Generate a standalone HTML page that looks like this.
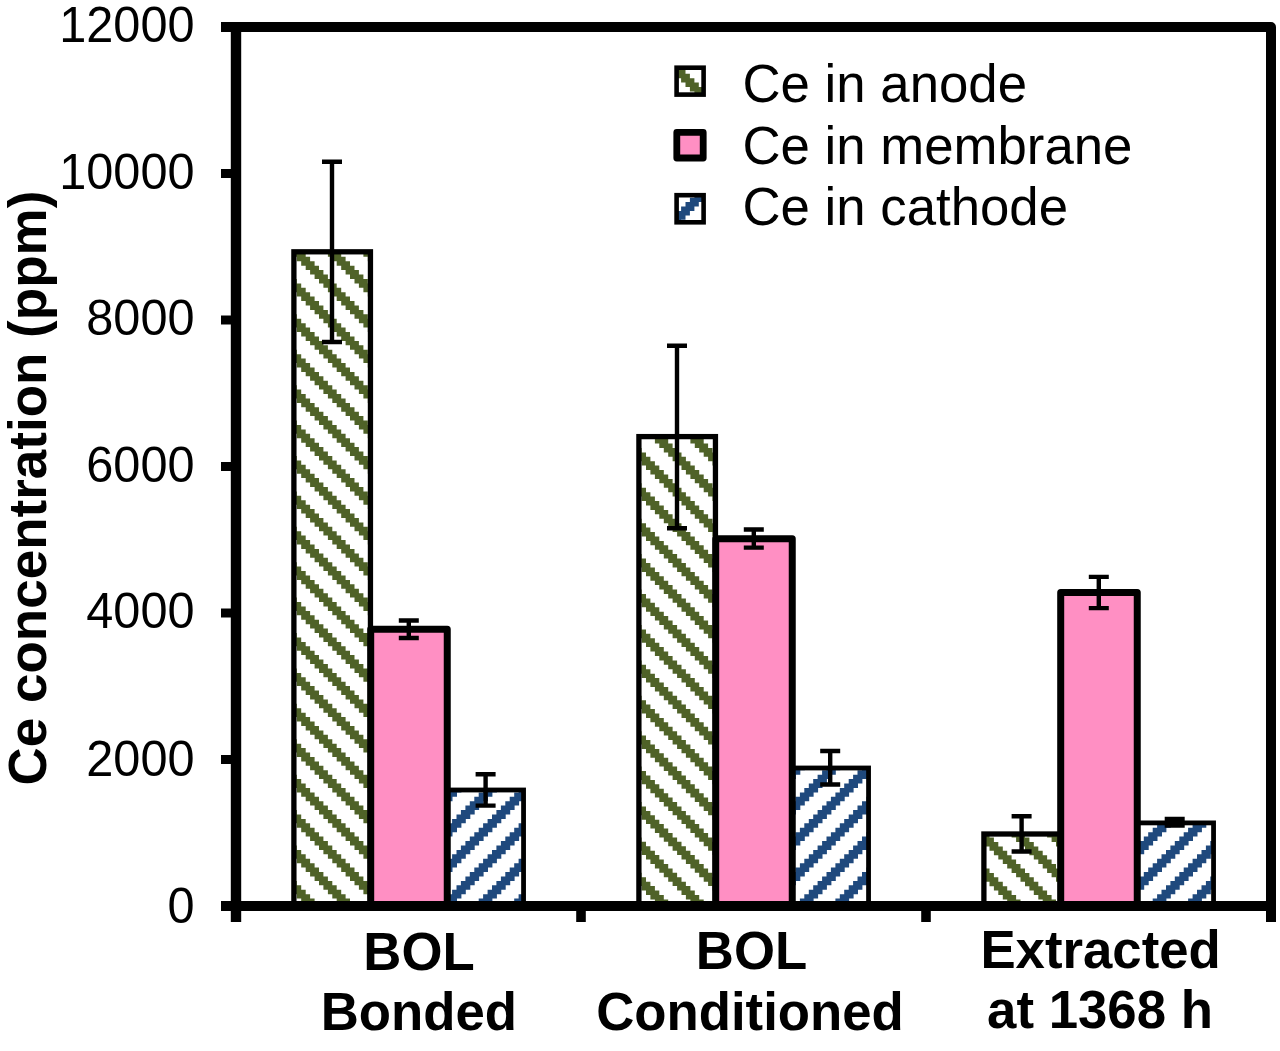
<!DOCTYPE html>
<html><head><meta charset="utf-8"><title>Ce concentration</title>
<style>html,body{margin:0;padding:0;background:#fff}svg{display:block}</style></head>
<body>
<svg width="1280" height="1051" viewBox="0 0 1280 1051">
<defs><filter id="soft" x="0" y="0" width="1280" height="1051" filterUnits="userSpaceOnUse" color-interpolation-filters="sRGB"><feGaussianBlur stdDeviation="0.7"/></filter></defs>
<rect width="1280" height="1051" fill="#fff"/>
<g filter="url(#soft)">
<rect x="-20" y="-20" width="1320" height="1091" fill="#fff"/>
<g><path fill="#4f6228" d="M293.9 251.8H301.2V252.4H293.9ZM323.4 251.8H336.7V252.4H323.4ZM358.9 251.8H370.4V252.4H358.9ZM293.9 252.4H305.7V256.8H293.9ZM327.9 252.4H341.2V256.8H327.9ZM363.4 252.4H370.4V256.8H363.4ZM296.8 256.8H310.1V261.2H296.8ZM332.3 256.8H345.6V261.2H332.3ZM367.8 256.8H370.4V261.2H367.8ZM301.2 261.2H314.6V265.7H301.2ZM336.7 261.2H350.0V265.7H336.7ZM305.7 265.7H319.0V270.1H305.7ZM341.2 265.7H354.5V270.1H341.2ZM310.1 270.1H323.4V274.5H310.1ZM345.6 270.1H358.9V274.5H345.6ZM314.6 274.5H327.9V278.9H314.6ZM350.0 274.5H363.4V278.9H350.0ZM293.9 278.9H296.8V283.4H293.9ZM319.0 278.9H332.3V283.4H319.0ZM354.5 278.9H367.8V283.4H354.5ZM293.9 283.4H301.2V287.8H293.9ZM323.4 283.4H336.7V287.8H323.4ZM358.9 283.4H370.4V287.8H358.9ZM293.9 287.8H305.7V292.2H293.9ZM327.9 287.8H341.2V292.2H327.9ZM363.4 287.8H370.4V292.2H363.4ZM296.8 292.2H310.1V296.6H296.8ZM332.3 292.2H345.6V296.6H332.3ZM367.8 292.2H370.4V296.6H367.8ZM301.2 296.6H314.6V301.1H301.2ZM336.7 296.6H350.0V301.1H336.7ZM305.7 301.1H319.0V305.5H305.7ZM341.2 301.1H354.5V305.5H341.2ZM310.1 305.5H323.4V309.9H310.1ZM345.6 305.5H358.9V309.9H345.6ZM314.6 309.9H327.9V314.3H314.6ZM350.0 309.9H363.4V314.3H350.0ZM293.9 314.3H296.8V318.8H293.9ZM319.0 314.3H332.3V318.8H319.0ZM354.5 314.3H367.8V318.8H354.5ZM293.9 318.8H301.2V323.2H293.9ZM323.4 318.8H336.7V323.2H323.4ZM358.9 318.8H370.4V323.2H358.9ZM293.9 323.2H305.7V327.6H293.9ZM327.9 323.2H341.2V327.6H327.9ZM363.4 323.2H370.4V327.6H363.4ZM296.8 327.6H310.1V332.1H296.8ZM332.3 327.6H345.6V332.1H332.3ZM367.8 327.6H370.4V332.1H367.8ZM301.2 332.1H314.6V336.5H301.2ZM336.7 332.1H350.0V336.5H336.7ZM305.7 336.5H319.0V340.9H305.7ZM341.2 336.5H354.5V340.9H341.2ZM310.1 340.9H323.4V345.3H310.1ZM345.6 340.9H358.9V345.3H345.6ZM314.6 345.3H327.9V349.8H314.6ZM350.0 345.3H363.4V349.8H350.0ZM293.9 349.8H296.8V354.2H293.9ZM319.0 349.8H332.3V354.2H319.0ZM354.5 349.8H367.8V354.2H354.5ZM293.9 354.2H301.2V358.6H293.9ZM323.4 354.2H336.7V358.6H323.4ZM358.9 354.2H370.4V358.6H358.9ZM293.9 358.6H305.7V363.0H293.9ZM327.9 358.6H341.2V363.0H327.9ZM363.4 358.6H370.4V363.0H363.4ZM296.8 363.0H310.1V367.5H296.8ZM332.3 363.0H345.6V367.5H332.3ZM367.8 363.0H370.4V367.5H367.8ZM301.2 367.5H314.6V371.9H301.2ZM336.7 367.5H350.0V371.9H336.7ZM305.7 371.9H319.0V376.3H305.7ZM341.2 371.9H354.5V376.3H341.2ZM310.1 376.3H323.4V380.7H310.1ZM345.6 376.3H358.9V380.7H345.6ZM314.6 380.7H327.9V385.2H314.6ZM350.0 380.7H363.4V385.2H350.0ZM293.9 385.2H296.8V389.6H293.9ZM319.0 385.2H332.3V389.6H319.0ZM354.5 385.2H367.8V389.6H354.5ZM293.9 389.6H301.2V394.0H293.9ZM323.4 389.6H336.7V394.0H323.4ZM358.9 389.6H370.4V394.0H358.9ZM293.9 394.0H305.7V398.4H293.9ZM327.9 394.0H341.2V398.4H327.9ZM363.4 394.0H370.4V398.4H363.4ZM296.8 398.4H310.1V402.9H296.8ZM332.3 398.4H345.6V402.9H332.3ZM367.8 398.4H370.4V402.9H367.8ZM301.2 402.9H314.6V407.3H301.2ZM336.7 402.9H350.0V407.3H336.7ZM305.7 407.3H319.0V411.7H305.7ZM341.2 407.3H354.5V411.7H341.2ZM310.1 411.7H323.4V416.1H310.1ZM345.6 411.7H358.9V416.1H345.6ZM314.6 416.1H327.9V420.6H314.6ZM350.0 416.1H363.4V420.6H350.0ZM293.9 420.6H296.8V425.0H293.9ZM319.0 420.6H332.3V425.0H319.0ZM354.5 420.6H367.8V425.0H354.5ZM293.9 425.0H301.2V429.4H293.9ZM323.4 425.0H336.7V429.4H323.4ZM358.9 425.0H370.4V429.4H358.9ZM293.9 429.4H305.7V433.8H293.9ZM327.9 429.4H341.2V433.8H327.9ZM363.4 429.4H370.4V433.8H363.4ZM296.8 433.8H310.1V438.3H296.8ZM332.3 433.8H345.6V438.3H332.3ZM367.8 433.8H370.4V438.3H367.8ZM301.2 438.3H314.6V442.7H301.2ZM336.7 438.3H350.0V442.7H336.7ZM305.7 442.7H319.0V447.1H305.7ZM341.2 442.7H354.5V447.1H341.2ZM310.1 447.1H323.4V451.6H310.1ZM345.6 447.1H358.9V451.6H345.6ZM314.6 451.6H327.9V456.0H314.6ZM350.0 451.6H363.4V456.0H350.0ZM293.9 456.0H296.8V460.4H293.9ZM319.0 456.0H332.3V460.4H319.0ZM354.5 456.0H367.8V460.4H354.5ZM293.9 460.4H301.2V464.8H293.9ZM323.4 460.4H336.7V464.8H323.4ZM358.9 460.4H370.4V464.8H358.9ZM293.9 464.8H305.7V469.3H293.9ZM327.9 464.8H341.2V469.3H327.9ZM363.4 464.8H370.4V469.3H363.4ZM296.8 469.3H310.1V473.7H296.8ZM332.3 469.3H345.6V473.7H332.3ZM367.8 469.3H370.4V473.7H367.8ZM301.2 473.7H314.6V478.1H301.2ZM336.7 473.7H350.0V478.1H336.7ZM305.7 478.1H319.0V482.5H305.7ZM341.2 478.1H354.5V482.5H341.2ZM310.1 482.5H323.4V487.0H310.1ZM345.6 482.5H358.9V487.0H345.6ZM314.6 487.0H327.9V491.4H314.6ZM350.0 487.0H363.4V491.4H350.0ZM293.9 491.4H296.8V495.8H293.9ZM319.0 491.4H332.3V495.8H319.0ZM354.5 491.4H367.8V495.8H354.5ZM293.9 495.8H301.2V500.2H293.9ZM323.4 495.8H336.7V500.2H323.4ZM358.9 495.8H370.4V500.2H358.9ZM293.9 500.2H305.7V504.7H293.9ZM327.9 500.2H341.2V504.7H327.9ZM363.4 500.2H370.4V504.7H363.4ZM296.8 504.7H310.1V509.1H296.8ZM332.3 504.7H345.6V509.1H332.3ZM367.8 504.7H370.4V509.1H367.8ZM301.2 509.1H314.6V513.5H301.2ZM336.7 509.1H350.0V513.5H336.7ZM305.7 513.5H319.0V517.9H305.7ZM341.2 513.5H354.5V517.9H341.2ZM310.1 517.9H323.4V522.4H310.1ZM345.6 517.9H358.9V522.4H345.6ZM314.6 522.4H327.9V526.8H314.6ZM350.0 522.4H363.4V526.8H350.0ZM293.9 526.8H296.8V531.2H293.9ZM319.0 526.8H332.3V531.2H319.0ZM354.5 526.8H367.8V531.2H354.5ZM293.9 531.2H301.2V535.6H293.9ZM323.4 531.2H336.7V535.6H323.4ZM358.9 531.2H370.4V535.6H358.9ZM293.9 535.6H305.7V540.1H293.9ZM327.9 535.6H341.2V540.1H327.9ZM363.4 535.6H370.4V540.1H363.4ZM296.8 540.1H310.1V544.5H296.8ZM332.3 540.1H345.6V544.5H332.3ZM367.8 540.1H370.4V544.5H367.8ZM301.2 544.5H314.6V548.9H301.2ZM336.7 544.5H350.0V548.9H336.7ZM305.7 548.9H319.0V553.4H305.7ZM341.2 548.9H354.5V553.4H341.2ZM310.1 553.4H323.4V557.8H310.1ZM345.6 553.4H358.9V557.8H345.6ZM314.6 557.8H327.9V562.2H314.6ZM350.0 557.8H363.4V562.2H350.0ZM293.9 562.2H296.8V566.6H293.9ZM319.0 562.2H332.3V566.6H319.0ZM354.5 562.2H367.8V566.6H354.5ZM293.9 566.6H301.2V571.1H293.9ZM323.4 566.6H336.7V571.1H323.4ZM358.9 566.6H370.4V571.1H358.9ZM293.9 571.1H305.7V575.5H293.9ZM327.9 571.1H341.2V575.5H327.9ZM363.4 571.1H370.4V575.5H363.4ZM296.8 575.5H310.1V579.9H296.8ZM332.3 575.5H345.6V579.9H332.3ZM367.8 575.5H370.4V579.9H367.8ZM301.2 579.9H314.6V584.3H301.2ZM336.7 579.9H350.0V584.3H336.7ZM305.7 584.3H319.0V588.8H305.7ZM341.2 584.3H354.5V588.8H341.2ZM310.1 588.8H323.4V593.2H310.1ZM345.6 588.8H358.9V593.2H345.6ZM314.6 593.2H327.9V597.6H314.6ZM350.0 593.2H363.4V597.6H350.0ZM293.9 597.6H296.8V602.0H293.9ZM319.0 597.6H332.3V602.0H319.0ZM354.5 597.6H367.8V602.0H354.5ZM293.9 602.0H301.2V606.5H293.9ZM323.4 602.0H336.7V606.5H323.4ZM358.9 602.0H370.4V606.5H358.9ZM293.9 606.5H305.7V610.9H293.9ZM327.9 606.5H341.2V610.9H327.9ZM363.4 606.5H370.4V610.9H363.4ZM296.8 610.9H310.1V615.3H296.8ZM332.3 610.9H345.6V615.3H332.3ZM367.8 610.9H370.4V615.3H367.8ZM301.2 615.3H314.6V619.7H301.2ZM336.7 615.3H350.0V619.7H336.7ZM305.7 619.7H319.0V624.2H305.7ZM341.2 619.7H354.5V624.2H341.2ZM310.1 624.2H323.4V628.6H310.1ZM345.6 624.2H358.9V628.6H345.6ZM314.6 628.6H327.9V633.0H314.6ZM350.0 628.6H363.4V633.0H350.0ZM293.9 633.0H296.8V637.4H293.9ZM319.0 633.0H332.3V637.4H319.0ZM354.5 633.0H367.8V637.4H354.5ZM293.9 637.4H301.2V641.9H293.9ZM323.4 637.4H336.7V641.9H323.4ZM358.9 637.4H370.4V641.9H358.9ZM293.9 641.9H305.7V646.3H293.9ZM327.9 641.9H341.2V646.3H327.9ZM363.4 641.9H370.4V646.3H363.4ZM296.8 646.3H310.1V650.7H296.8ZM332.3 646.3H345.6V650.7H332.3ZM367.8 646.3H370.4V650.7H367.8ZM301.2 650.7H314.6V655.1H301.2ZM336.7 650.7H350.0V655.1H336.7ZM305.7 655.1H319.0V659.6H305.7ZM341.2 655.1H354.5V659.6H341.2ZM310.1 659.6H323.4V664.0H310.1ZM345.6 659.6H358.9V664.0H345.6ZM314.6 664.0H327.9V668.4H314.6ZM350.0 664.0H363.4V668.4H350.0ZM293.9 668.4H296.8V672.9H293.9ZM319.0 668.4H332.3V672.9H319.0ZM354.5 668.4H367.8V672.9H354.5ZM293.9 672.9H301.2V677.3H293.9ZM323.4 672.9H336.7V677.3H323.4ZM358.9 672.9H370.4V677.3H358.9ZM293.9 677.3H305.7V681.7H293.9ZM327.9 677.3H341.2V681.7H327.9ZM363.4 677.3H370.4V681.7H363.4ZM296.8 681.7H310.1V686.1H296.8ZM332.3 681.7H345.6V686.1H332.3ZM367.8 681.7H370.4V686.1H367.8ZM301.2 686.1H314.6V690.6H301.2ZM336.7 686.1H350.0V690.6H336.7ZM305.7 690.6H319.0V695.0H305.7ZM341.2 690.6H354.5V695.0H341.2ZM310.1 695.0H323.4V699.4H310.1ZM345.6 695.0H358.9V699.4H345.6ZM314.6 699.4H327.9V703.8H314.6ZM350.0 699.4H363.4V703.8H350.0ZM293.9 703.8H296.8V708.3H293.9ZM319.0 703.8H332.3V708.3H319.0ZM354.5 703.8H367.8V708.3H354.5ZM293.9 708.3H301.2V712.7H293.9ZM323.4 708.3H336.7V712.7H323.4ZM358.9 708.3H370.4V712.7H358.9ZM293.9 712.7H305.7V717.1H293.9ZM327.9 712.7H341.2V717.1H327.9ZM363.4 712.7H370.4V717.1H363.4ZM296.8 717.1H310.1V721.5H296.8ZM332.3 717.1H345.6V721.5H332.3ZM367.8 717.1H370.4V721.5H367.8ZM301.2 721.5H314.6V726.0H301.2ZM336.7 721.5H350.0V726.0H336.7ZM305.7 726.0H319.0V730.4H305.7ZM341.2 726.0H354.5V730.4H341.2ZM310.1 730.4H323.4V734.8H310.1ZM345.6 730.4H358.9V734.8H345.6ZM314.6 734.8H327.9V739.2H314.6ZM350.0 734.8H363.4V739.2H350.0ZM293.9 739.2H296.8V743.7H293.9ZM319.0 739.2H332.3V743.7H319.0ZM354.5 739.2H367.8V743.7H354.5ZM293.9 743.7H301.2V748.1H293.9ZM323.4 743.7H336.7V748.1H323.4ZM358.9 743.7H370.4V748.1H358.9ZM293.9 748.1H305.7V752.5H293.9ZM327.9 748.1H341.2V752.5H327.9ZM363.4 748.1H370.4V752.5H363.4ZM296.8 752.5H310.1V756.9H296.8ZM332.3 752.5H345.6V756.9H332.3ZM367.8 752.5H370.4V756.9H367.8ZM301.2 756.9H314.6V761.4H301.2ZM336.7 756.9H350.0V761.4H336.7ZM305.7 761.4H319.0V765.8H305.7ZM341.2 761.4H354.5V765.8H341.2ZM310.1 765.8H323.4V770.2H310.1ZM345.6 765.8H358.9V770.2H345.6ZM314.6 770.2H327.9V774.7H314.6ZM350.0 770.2H363.4V774.7H350.0ZM293.9 774.7H296.8V779.1H293.9ZM319.0 774.7H332.3V779.1H319.0ZM354.5 774.7H367.8V779.1H354.5ZM293.9 779.1H301.2V783.5H293.9ZM323.4 779.1H336.7V783.5H323.4ZM358.9 779.1H370.4V783.5H358.9ZM293.9 783.5H305.7V787.9H293.9ZM327.9 783.5H341.2V787.9H327.9ZM363.4 783.5H370.4V787.9H363.4ZM296.8 787.9H310.1V792.4H296.8ZM332.3 787.9H345.6V792.4H332.3ZM367.8 787.9H370.4V792.4H367.8ZM301.2 792.4H314.6V796.8H301.2ZM336.7 792.4H350.0V796.8H336.7ZM305.7 796.8H319.0V801.2H305.7ZM341.2 796.8H354.5V801.2H341.2ZM310.1 801.2H323.4V805.6H310.1ZM345.6 801.2H358.9V805.6H345.6ZM314.6 805.6H327.9V810.1H314.6ZM350.0 805.6H363.4V810.1H350.0ZM293.9 810.1H296.8V814.5H293.9ZM319.0 810.1H332.3V814.5H319.0ZM354.5 810.1H367.8V814.5H354.5ZM293.9 814.5H301.2V818.9H293.9ZM323.4 814.5H336.7V818.9H323.4ZM358.9 814.5H370.4V818.9H358.9ZM293.9 818.9H305.7V823.3H293.9ZM327.9 818.9H341.2V823.3H327.9ZM363.4 818.9H370.4V823.3H363.4ZM296.8 823.3H310.1V827.8H296.8ZM332.3 823.3H345.6V827.8H332.3ZM367.8 823.3H370.4V827.8H367.8ZM301.2 827.8H314.6V832.2H301.2ZM336.7 827.8H350.0V832.2H336.7ZM305.7 832.2H319.0V836.6H305.7ZM341.2 832.2H354.5V836.6H341.2ZM310.1 836.6H323.4V841.0H310.1ZM345.6 836.6H358.9V841.0H345.6ZM314.6 841.0H327.9V845.5H314.6ZM350.0 841.0H363.4V845.5H350.0ZM293.9 845.5H296.8V849.9H293.9ZM319.0 845.5H332.3V849.9H319.0ZM354.5 845.5H367.8V849.9H354.5ZM293.9 849.9H301.2V854.3H293.9ZM323.4 849.9H336.7V854.3H323.4ZM358.9 849.9H370.4V854.3H358.9ZM293.9 854.3H305.7V858.7H293.9ZM327.9 854.3H341.2V858.7H327.9ZM363.4 854.3H370.4V858.7H363.4ZM296.8 858.7H310.1V863.2H296.8ZM332.3 858.7H345.6V863.2H332.3ZM367.8 858.7H370.4V863.2H367.8ZM301.2 863.2H314.6V867.6H301.2ZM336.7 863.2H350.0V867.6H336.7ZM305.7 867.6H319.0V872.0H305.7ZM341.2 867.6H354.5V872.0H341.2ZM310.1 872.0H323.4V876.4H310.1ZM345.6 872.0H358.9V876.4H345.6ZM314.6 876.4H327.9V880.9H314.6ZM350.0 876.4H363.4V880.9H350.0ZM293.9 880.9H296.8V885.3H293.9ZM319.0 880.9H332.3V885.3H319.0ZM354.5 880.9H367.8V885.3H354.5ZM293.9 885.3H301.2V889.7H293.9ZM323.4 885.3H336.7V889.7H323.4ZM358.9 885.3H370.4V889.7H358.9ZM293.9 889.7H305.7V894.2H293.9ZM327.9 889.7H341.2V894.2H327.9ZM363.4 889.7H370.4V894.2H363.4ZM296.8 894.2H310.1V898.6H296.8ZM332.3 894.2H345.6V898.6H332.3ZM367.8 894.2H370.4V898.6H367.8ZM301.2 898.6H314.6V903.0H301.2ZM336.7 898.6H350.0V903.0H336.7ZM305.7 903.0H319.0V906.0H305.7ZM341.2 903.0H354.5V906.0H341.2Z"/>
<rect x="293.90" y="251.80" width="76.55" height="654.20" fill="none" stroke="#000" stroke-width="5.3"/>
<path fill="#1f497d" d="M447.6 790.0H461.4V792.4H447.6ZM483.1 790.0H496.9V792.4H483.1ZM518.6 790.0H523.5V792.4H518.6ZM447.0 792.4H457.0V796.8H447.0ZM478.7 792.4H492.4V796.8H478.7ZM514.2 792.4H523.5V796.8H514.2ZM447.0 796.8H452.5V801.2H447.0ZM474.3 796.8H488.0V801.2H474.3ZM509.7 796.8H523.5V801.2H509.7ZM447.0 801.2H448.1V805.6H447.0ZM469.8 801.2H483.6V805.6H469.8ZM505.3 801.2H519.1V805.6H505.3ZM465.4 805.6H479.1V810.1H465.4ZM500.9 805.6H514.6V810.1H500.9ZM460.9 810.1H474.7V814.5H460.9ZM496.4 810.1H510.2V814.5H496.4ZM456.5 814.5H470.3V818.9H456.5ZM492.0 814.5H505.7V818.9H492.0ZM452.1 818.9H465.8V823.3H452.1ZM487.6 818.9H501.3V823.3H487.6ZM523.0 818.9H523.5V823.3H523.0ZM447.6 823.3H461.4V827.8H447.6ZM483.1 823.3H496.9V827.8H483.1ZM518.6 823.3H523.5V827.8H518.6ZM447.0 827.8H457.0V832.2H447.0ZM478.7 827.8H492.4V832.2H478.7ZM514.2 827.8H523.5V832.2H514.2ZM447.0 832.2H452.5V836.6H447.0ZM474.3 832.2H488.0V836.6H474.3ZM509.7 832.2H523.5V836.6H509.7ZM447.0 836.6H448.1V841.0H447.0ZM469.8 836.6H483.6V841.0H469.8ZM505.3 836.6H519.1V841.0H505.3ZM465.4 841.0H479.1V845.5H465.4ZM500.9 841.0H514.6V845.5H500.9ZM460.9 845.5H474.7V849.9H460.9ZM496.4 845.5H510.2V849.9H496.4ZM456.5 849.9H470.3V854.3H456.5ZM492.0 849.9H505.7V854.3H492.0ZM452.1 854.3H465.8V858.7H452.1ZM487.6 854.3H501.3V858.7H487.6ZM523.0 854.3H523.5V858.7H523.0ZM447.6 858.7H461.4V863.2H447.6ZM483.1 858.7H496.9V863.2H483.1ZM518.6 858.7H523.5V863.2H518.6ZM447.0 863.2H457.0V867.6H447.0ZM478.7 863.2H492.4V867.6H478.7ZM514.2 863.2H523.5V867.6H514.2ZM447.0 867.6H452.5V872.0H447.0ZM474.3 867.6H488.0V872.0H474.3ZM509.7 867.6H523.5V872.0H509.7ZM447.0 872.0H448.1V876.4H447.0ZM469.8 872.0H483.6V876.4H469.8ZM505.3 872.0H519.1V876.4H505.3ZM465.4 876.4H479.1V880.9H465.4ZM500.9 876.4H514.6V880.9H500.9ZM460.9 880.9H474.7V885.3H460.9ZM496.4 880.9H510.2V885.3H496.4ZM456.5 885.3H470.3V889.7H456.5ZM492.0 885.3H505.7V889.7H492.0ZM452.1 889.7H465.8V894.2H452.1ZM487.6 889.7H501.3V894.2H487.6ZM523.0 889.7H523.5V894.2H523.0ZM447.6 894.2H461.4V898.6H447.6ZM483.1 894.2H496.9V898.6H483.1ZM518.6 894.2H523.5V898.6H518.6ZM447.0 898.6H457.0V903.0H447.0ZM478.7 898.6H492.4V903.0H478.7ZM514.2 898.6H523.5V903.0H514.2ZM447.0 903.0H452.5V906.0H447.0ZM474.3 903.0H488.0V906.0H474.3ZM509.7 903.0H523.5V906.0H509.7Z"/>
<rect x="447.00" y="790.00" width="76.55" height="116.00" fill="none" stroke="#000" stroke-width="4.8"/>
<rect x="370.70" y="629.20" width="76.55" height="276.80" fill="#ff8fc3" stroke="#000" stroke-width="7" stroke-linejoin="round"/>
<path fill="#4f6228" d="M650.4 436.6H663.8V439.1H650.4ZM685.9 436.6H699.2V439.1H685.9ZM654.9 439.1H668.2V443.5H654.9ZM690.4 439.1H703.7V443.5H690.4ZM659.3 443.5H672.6V447.9H659.3ZM694.8 443.5H708.1V447.9H694.8ZM638.9 447.9H641.6V452.4H638.9ZM663.8 447.9H677.1V452.4H663.8ZM699.2 447.9H712.5V452.4H699.2ZM638.9 452.4H646.0V456.8H638.9ZM668.2 452.4H681.5V456.8H668.2ZM703.7 452.4H715.4V456.8H703.7ZM638.9 456.8H650.4V461.2H638.9ZM672.6 456.8H685.9V461.2H672.6ZM708.1 456.8H715.4V461.2H708.1ZM641.6 461.2H654.9V465.6H641.6ZM677.1 461.2H690.4V465.6H677.1ZM712.5 461.2H715.4V465.6H712.5ZM646.0 465.6H659.3V470.1H646.0ZM681.5 465.6H694.8V470.1H681.5ZM650.4 470.1H663.8V474.5H650.4ZM685.9 470.1H699.2V474.5H685.9ZM654.9 474.5H668.2V478.9H654.9ZM690.4 474.5H703.7V478.9H690.4ZM659.3 478.9H672.6V483.3H659.3ZM694.8 478.9H708.1V483.3H694.8ZM638.9 483.3H641.6V487.8H638.9ZM663.8 483.3H677.1V487.8H663.8ZM699.2 483.3H712.5V487.8H699.2ZM638.9 487.8H646.0V492.2H638.9ZM668.2 487.8H681.5V492.2H668.2ZM703.7 487.8H715.4V492.2H703.7ZM638.9 492.2H650.4V496.6H638.9ZM672.6 492.2H685.9V496.6H672.6ZM708.1 492.2H715.4V496.6H708.1ZM641.6 496.6H654.9V501.0H641.6ZM677.1 496.6H690.4V501.0H677.1ZM712.5 496.6H715.4V501.0H712.5ZM646.0 501.0H659.3V505.5H646.0ZM681.5 501.0H694.8V505.5H681.5ZM650.4 505.5H663.8V509.9H650.4ZM685.9 505.5H699.2V509.9H685.9ZM654.9 509.9H668.2V514.3H654.9ZM690.4 509.9H703.7V514.3H690.4ZM659.3 514.3H672.6V518.7H659.3ZM694.8 514.3H708.1V518.7H694.8ZM638.9 518.7H641.6V523.2H638.9ZM663.8 518.7H677.1V523.2H663.8ZM699.2 518.7H712.5V523.2H699.2ZM638.9 523.2H646.0V527.6H638.9ZM668.2 523.2H681.5V527.6H668.2ZM703.7 523.2H715.4V527.6H703.7ZM638.9 527.6H650.4V532.0H638.9ZM672.6 527.6H685.9V532.0H672.6ZM708.1 527.6H715.4V532.0H708.1ZM641.6 532.0H654.9V536.4H641.6ZM677.1 532.0H690.4V536.4H677.1ZM712.5 532.0H715.4V536.4H712.5ZM646.0 536.4H659.3V540.9H646.0ZM681.5 536.4H694.8V540.9H681.5ZM650.4 540.9H663.8V545.3H650.4ZM685.9 540.9H699.2V545.3H685.9ZM654.9 545.3H668.2V549.7H654.9ZM690.4 545.3H703.7V549.7H690.4ZM659.3 549.7H672.6V554.1H659.3ZM694.8 549.7H708.1V554.1H694.8ZM638.9 554.1H641.6V558.6H638.9ZM663.8 554.1H677.1V558.6H663.8ZM699.2 554.1H712.5V558.6H699.2ZM638.9 558.6H646.0V563.0H638.9ZM668.2 558.6H681.5V563.0H668.2ZM703.7 558.6H715.4V563.0H703.7ZM638.9 563.0H650.4V567.4H638.9ZM672.6 563.0H685.9V567.4H672.6ZM708.1 563.0H715.4V567.4H708.1ZM641.6 567.4H654.9V571.9H641.6ZM677.1 567.4H690.4V571.9H677.1ZM712.5 567.4H715.4V571.9H712.5ZM646.0 571.9H659.3V576.3H646.0ZM681.5 571.9H694.8V576.3H681.5ZM650.4 576.3H663.8V580.7H650.4ZM685.9 576.3H699.2V580.7H685.9ZM654.9 580.7H668.2V585.1H654.9ZM690.4 580.7H703.7V585.1H690.4ZM659.3 585.1H672.6V589.6H659.3ZM694.8 585.1H708.1V589.6H694.8ZM638.9 589.6H641.6V594.0H638.9ZM663.8 589.6H677.1V594.0H663.8ZM699.2 589.6H712.5V594.0H699.2ZM638.9 594.0H646.0V598.4H638.9ZM668.2 594.0H681.5V598.4H668.2ZM703.7 594.0H715.4V598.4H703.7ZM638.9 598.4H650.4V602.8H638.9ZM672.6 598.4H685.9V602.8H672.6ZM708.1 598.4H715.4V602.8H708.1ZM641.6 602.8H654.9V607.3H641.6ZM677.1 602.8H690.4V607.3H677.1ZM712.5 602.8H715.4V607.3H712.5ZM646.0 607.3H659.3V611.7H646.0ZM681.5 607.3H694.8V611.7H681.5ZM650.4 611.7H663.8V616.1H650.4ZM685.9 611.7H699.2V616.1H685.9ZM654.9 616.1H668.2V620.5H654.9ZM690.4 616.1H703.7V620.5H690.4ZM659.3 620.5H672.6V625.0H659.3ZM694.8 620.5H708.1V625.0H694.8ZM638.9 625.0H641.6V629.4H638.9ZM663.8 625.0H677.1V629.4H663.8ZM699.2 625.0H712.5V629.4H699.2ZM638.9 629.4H646.0V633.8H638.9ZM668.2 629.4H681.5V633.8H668.2ZM703.7 629.4H715.4V633.8H703.7ZM638.9 633.8H650.4V638.2H638.9ZM672.6 633.8H685.9V638.2H672.6ZM708.1 633.8H715.4V638.2H708.1ZM641.6 638.2H654.9V642.7H641.6ZM677.1 638.2H690.4V642.7H677.1ZM712.5 638.2H715.4V642.7H712.5ZM646.0 642.7H659.3V647.1H646.0ZM681.5 642.7H694.8V647.1H681.5ZM650.4 647.1H663.8V651.5H650.4ZM685.9 647.1H699.2V651.5H685.9ZM654.9 651.5H668.2V655.9H654.9ZM690.4 651.5H703.7V655.9H690.4ZM659.3 655.9H672.6V660.4H659.3ZM694.8 655.9H708.1V660.4H694.8ZM638.9 660.4H641.6V664.8H638.9ZM663.8 660.4H677.1V664.8H663.8ZM699.2 660.4H712.5V664.8H699.2ZM638.9 664.8H646.0V669.2H638.9ZM668.2 664.8H681.5V669.2H668.2ZM703.7 664.8H715.4V669.2H703.7ZM638.9 669.2H650.4V673.7H638.9ZM672.6 669.2H685.9V673.7H672.6ZM708.1 669.2H715.4V673.7H708.1ZM641.6 673.7H654.9V678.1H641.6ZM677.1 673.7H690.4V678.1H677.1ZM712.5 673.7H715.4V678.1H712.5ZM646.0 678.1H659.3V682.5H646.0ZM681.5 678.1H694.8V682.5H681.5ZM650.4 682.5H663.8V686.9H650.4ZM685.9 682.5H699.2V686.9H685.9ZM654.9 686.9H668.2V691.4H654.9ZM690.4 686.9H703.7V691.4H690.4ZM659.3 691.4H672.6V695.8H659.3ZM694.8 691.4H708.1V695.8H694.8ZM638.9 695.8H641.6V700.2H638.9ZM663.8 695.8H677.1V700.2H663.8ZM699.2 695.8H712.5V700.2H699.2ZM638.9 700.2H646.0V704.6H638.9ZM668.2 700.2H681.5V704.6H668.2ZM703.7 700.2H715.4V704.6H703.7ZM638.9 704.6H650.4V709.1H638.9ZM672.6 704.6H685.9V709.1H672.6ZM708.1 704.6H715.4V709.1H708.1ZM641.6 709.1H654.9V713.5H641.6ZM677.1 709.1H690.4V713.5H677.1ZM712.5 709.1H715.4V713.5H712.5ZM646.0 713.5H659.3V717.9H646.0ZM681.5 713.5H694.8V717.9H681.5ZM650.4 717.9H663.8V722.3H650.4ZM685.9 717.9H699.2V722.3H685.9ZM654.9 722.3H668.2V726.8H654.9ZM690.4 722.3H703.7V726.8H690.4ZM659.3 726.8H672.6V731.2H659.3ZM694.8 726.8H708.1V731.2H694.8ZM638.9 731.2H641.6V735.6H638.9ZM663.8 731.2H677.1V735.6H663.8ZM699.2 731.2H712.5V735.6H699.2ZM638.9 735.6H646.0V740.0H638.9ZM668.2 735.6H681.5V740.0H668.2ZM703.7 735.6H715.4V740.0H703.7ZM638.9 740.0H650.4V744.5H638.9ZM672.6 740.0H685.9V744.5H672.6ZM708.1 740.0H715.4V744.5H708.1ZM641.6 744.5H654.9V748.9H641.6ZM677.1 744.5H690.4V748.9H677.1ZM712.5 744.5H715.4V748.9H712.5ZM646.0 748.9H659.3V753.3H646.0ZM681.5 748.9H694.8V753.3H681.5ZM650.4 753.3H663.8V757.7H650.4ZM685.9 753.3H699.2V757.7H685.9ZM654.9 757.7H668.2V762.2H654.9ZM690.4 757.7H703.7V762.2H690.4ZM659.3 762.2H672.6V766.6H659.3ZM694.8 762.2H708.1V766.6H694.8ZM638.9 766.6H641.6V771.0H638.9ZM663.8 766.6H677.1V771.0H663.8ZM699.2 766.6H712.5V771.0H699.2ZM638.9 771.0H646.0V775.5H638.9ZM668.2 771.0H681.5V775.5H668.2ZM703.7 771.0H715.4V775.5H703.7ZM638.9 775.5H650.4V779.9H638.9ZM672.6 775.5H685.9V779.9H672.6ZM708.1 775.5H715.4V779.9H708.1ZM641.6 779.9H654.9V784.3H641.6ZM677.1 779.9H690.4V784.3H677.1ZM712.5 779.9H715.4V784.3H712.5ZM646.0 784.3H659.3V788.7H646.0ZM681.5 784.3H694.8V788.7H681.5ZM650.4 788.7H663.8V793.2H650.4ZM685.9 788.7H699.2V793.2H685.9ZM654.9 793.2H668.2V797.6H654.9ZM690.4 793.2H703.7V797.6H690.4ZM659.3 797.6H672.6V802.0H659.3ZM694.8 797.6H708.1V802.0H694.8ZM638.9 802.0H641.6V806.4H638.9ZM663.8 802.0H677.1V806.4H663.8ZM699.2 802.0H712.5V806.4H699.2ZM638.9 806.4H646.0V810.9H638.9ZM668.2 806.4H681.5V810.9H668.2ZM703.7 806.4H715.4V810.9H703.7ZM638.9 810.9H650.4V815.3H638.9ZM672.6 810.9H685.9V815.3H672.6ZM708.1 810.9H715.4V815.3H708.1ZM641.6 815.3H654.9V819.7H641.6ZM677.1 815.3H690.4V819.7H677.1ZM712.5 815.3H715.4V819.7H712.5ZM646.0 819.7H659.3V824.1H646.0ZM681.5 819.7H694.8V824.1H681.5ZM650.4 824.1H663.8V828.6H650.4ZM685.9 824.1H699.2V828.6H685.9ZM654.9 828.6H668.2V833.0H654.9ZM690.4 828.6H703.7V833.0H690.4ZM659.3 833.0H672.6V837.4H659.3ZM694.8 833.0H708.1V837.4H694.8ZM638.9 837.4H641.6V841.8H638.9ZM663.8 837.4H677.1V841.8H663.8ZM699.2 837.4H712.5V841.8H699.2ZM638.9 841.8H646.0V846.3H638.9ZM668.2 841.8H681.5V846.3H668.2ZM703.7 841.8H715.4V846.3H703.7ZM638.9 846.3H650.4V850.7H638.9ZM672.6 846.3H685.9V850.7H672.6ZM708.1 846.3H715.4V850.7H708.1ZM641.6 850.7H654.9V855.1H641.6ZM677.1 850.7H690.4V855.1H677.1ZM712.5 850.7H715.4V855.1H712.5ZM646.0 855.1H659.3V859.5H646.0ZM681.5 855.1H694.8V859.5H681.5ZM650.4 859.5H663.8V864.0H650.4ZM685.9 859.5H699.2V864.0H685.9ZM654.9 864.0H668.2V868.4H654.9ZM690.4 864.0H703.7V868.4H690.4ZM659.3 868.4H672.6V872.8H659.3ZM694.8 868.4H708.1V872.8H694.8ZM638.9 872.8H641.6V877.2H638.9ZM663.8 872.8H677.1V877.2H663.8ZM699.2 872.8H712.5V877.2H699.2ZM638.9 877.2H646.0V881.7H638.9ZM668.2 877.2H681.5V881.7H668.2ZM703.7 877.2H715.4V881.7H703.7ZM638.9 881.7H650.4V886.1H638.9ZM672.6 881.7H685.9V886.1H672.6ZM708.1 881.7H715.4V886.1H708.1ZM641.6 886.1H654.9V890.5H641.6ZM677.1 886.1H690.4V890.5H677.1ZM712.5 886.1H715.4V890.5H712.5ZM646.0 890.5H659.3V895.0H646.0ZM681.5 890.5H694.8V895.0H681.5ZM650.4 895.0H663.8V899.4H650.4ZM685.9 895.0H699.2V899.4H685.9ZM654.9 899.4H668.2V903.8H654.9ZM690.4 899.4H703.7V903.8H690.4ZM659.3 903.8H672.6V906.0H659.3ZM694.8 903.8H708.1V906.0H694.8Z"/>
<rect x="638.90" y="436.60" width="76.55" height="469.40" fill="none" stroke="#000" stroke-width="5.3"/>
<path fill="#1f497d" d="M792.0 768.0H804.8V770.2H792.0ZM826.5 768.0H840.2V770.2H826.5ZM862.0 768.0H868.5V770.2H862.0ZM792.0 770.2H800.3V774.7H792.0ZM822.1 770.2H835.8V774.7H822.1ZM857.5 770.2H868.5V774.7H857.5ZM792.0 774.7H795.9V779.1H792.0ZM817.6 774.7H831.4V779.1H817.6ZM853.1 774.7H866.9V779.1H853.1ZM813.2 779.1H826.9V783.5H813.2ZM848.7 779.1H862.4V783.5H848.7ZM808.8 783.5H822.5V787.9H808.8ZM844.2 783.5H858.0V787.9H844.2ZM804.3 787.9H818.1V792.4H804.3ZM839.8 787.9H853.6V792.4H839.8ZM799.9 792.4H813.6V796.8H799.9ZM835.4 792.4H849.1V796.8H835.4ZM795.4 796.8H809.2V801.2H795.4ZM830.9 796.8H844.7V801.2H830.9ZM866.4 796.8H868.5V801.2H866.4ZM792.0 801.2H804.8V805.6H792.0ZM826.5 801.2H840.2V805.6H826.5ZM862.0 801.2H868.5V805.6H862.0ZM792.0 805.6H800.3V810.1H792.0ZM822.1 805.6H835.8V810.1H822.1ZM857.5 805.6H868.5V810.1H857.5ZM792.0 810.1H795.9V814.5H792.0ZM817.6 810.1H831.4V814.5H817.6ZM853.1 810.1H866.9V814.5H853.1ZM813.2 814.5H826.9V818.9H813.2ZM848.7 814.5H862.4V818.9H848.7ZM808.8 818.9H822.5V823.3H808.8ZM844.2 818.9H858.0V823.3H844.2ZM804.3 823.3H818.1V827.8H804.3ZM839.8 823.3H853.6V827.8H839.8ZM799.9 827.8H813.6V832.2H799.9ZM835.4 827.8H849.1V832.2H835.4ZM795.4 832.2H809.2V836.6H795.4ZM830.9 832.2H844.7V836.6H830.9ZM866.4 832.2H868.5V836.6H866.4ZM792.0 836.6H804.8V841.0H792.0ZM826.5 836.6H840.2V841.0H826.5ZM862.0 836.6H868.5V841.0H862.0ZM792.0 841.0H800.3V845.5H792.0ZM822.1 841.0H835.8V845.5H822.1ZM857.5 841.0H868.5V845.5H857.5ZM792.0 845.5H795.9V849.9H792.0ZM817.6 845.5H831.4V849.9H817.6ZM853.1 845.5H866.9V849.9H853.1ZM813.2 849.9H826.9V854.3H813.2ZM848.7 849.9H862.4V854.3H848.7ZM808.8 854.3H822.5V858.7H808.8ZM844.2 854.3H858.0V858.7H844.2ZM804.3 858.7H818.1V863.2H804.3ZM839.8 858.7H853.6V863.2H839.8ZM799.9 863.2H813.6V867.6H799.9ZM835.4 863.2H849.1V867.6H835.4ZM795.4 867.6H809.2V872.0H795.4ZM830.9 867.6H844.7V872.0H830.9ZM866.4 867.6H868.5V872.0H866.4ZM792.0 872.0H804.8V876.4H792.0ZM826.5 872.0H840.2V876.4H826.5ZM862.0 872.0H868.5V876.4H862.0ZM792.0 876.4H800.3V880.9H792.0ZM822.1 876.4H835.8V880.9H822.1ZM857.5 876.4H868.5V880.9H857.5ZM792.0 880.9H795.9V885.3H792.0ZM817.6 880.9H831.4V885.3H817.6ZM853.1 880.9H866.9V885.3H853.1ZM813.2 885.3H826.9V889.7H813.2ZM848.7 885.3H862.4V889.7H848.7ZM808.8 889.7H822.5V894.2H808.8ZM844.2 889.7H858.0V894.2H844.2ZM804.3 894.2H818.1V898.6H804.3ZM839.8 894.2H853.6V898.6H839.8ZM799.9 898.6H813.6V903.0H799.9ZM835.4 898.6H849.1V903.0H835.4ZM795.4 903.0H809.2V906.0H795.4ZM830.9 903.0H844.7V906.0H830.9ZM866.4 903.0H868.5V906.0H866.4Z"/>
<rect x="792.00" y="768.00" width="76.55" height="138.00" fill="none" stroke="#000" stroke-width="4.8"/>
<rect x="715.70" y="538.80" width="76.55" height="367.20" fill="#ff8fc3" stroke="#000" stroke-width="7" stroke-linejoin="round"/>
<path fill="#4f6228" d="M983.9 834.0H989.5V837.5H983.9ZM1011.6 834.0H1025.0V837.5H1011.6ZM1047.1 834.0H1060.4V837.5H1047.1ZM983.9 837.5H993.9V841.9H983.9ZM1016.1 837.5H1029.4V841.9H1016.1ZM1051.6 837.5H1060.5V841.9H1051.6ZM985.0 841.9H998.3V846.4H985.0ZM1020.5 841.9H1033.8V846.4H1020.5ZM1056.0 841.9H1060.5V846.4H1056.0ZM989.5 846.4H1002.8V850.8H989.5ZM1025.0 846.4H1038.3V850.8H1025.0ZM1060.4 846.4H1060.5V850.8H1060.4ZM993.9 850.8H1007.2V855.2H993.9ZM1029.4 850.8H1042.7V855.2H1029.4ZM998.3 855.2H1011.6V859.6H998.3ZM1033.8 855.2H1047.1V859.6H1033.8ZM1002.8 859.6H1016.1V864.1H1002.8ZM1038.3 859.6H1051.6V864.1H1038.3ZM983.9 864.1H985.0V868.5H983.9ZM1007.2 864.1H1020.5V868.5H1007.2ZM1042.7 864.1H1056.0V868.5H1042.7ZM983.9 868.5H989.5V872.9H983.9ZM1011.6 868.5H1025.0V872.9H1011.6ZM1047.1 868.5H1060.4V872.9H1047.1ZM983.9 872.9H993.9V877.3H983.9ZM1016.1 872.9H1029.4V877.3H1016.1ZM1051.6 872.9H1060.5V877.3H1051.6ZM985.0 877.3H998.3V881.8H985.0ZM1020.5 877.3H1033.8V881.8H1020.5ZM1056.0 877.3H1060.5V881.8H1056.0ZM989.5 881.8H1002.8V886.2H989.5ZM1025.0 881.8H1038.3V886.2H1025.0ZM1060.4 881.8H1060.5V886.2H1060.4ZM993.9 886.2H1007.2V890.6H993.9ZM1029.4 886.2H1042.7V890.6H1029.4ZM998.3 890.6H1011.6V895.1H998.3ZM1033.8 890.6H1047.1V895.1H1033.8ZM1002.8 895.1H1016.1V899.5H1002.8ZM1038.3 895.1H1051.6V899.5H1038.3ZM983.9 899.5H985.0V903.9H983.9ZM1007.2 899.5H1020.5V903.9H1007.2ZM1042.7 899.5H1056.0V903.9H1042.7ZM983.9 903.9H989.5V906.0H983.9ZM1011.6 903.9H1025.0V906.0H1011.6ZM1047.1 903.9H1060.4V906.0H1047.1Z"/>
<rect x="983.90" y="834.00" width="76.55" height="72.00" fill="none" stroke="#000" stroke-width="5.3"/>
<path fill="#1f497d" d="M1137.0 822.9H1139.8V823.3H1137.0ZM1161.5 822.9H1175.3V823.3H1161.5ZM1197.0 822.9H1210.8V823.3H1197.0ZM1157.1 823.3H1170.8V827.8H1157.1ZM1192.6 823.3H1206.3V827.8H1192.6ZM1152.7 827.8H1166.4V832.2H1152.7ZM1188.1 827.8H1201.9V832.2H1188.1ZM1148.2 832.2H1162.0V836.6H1148.2ZM1183.7 832.2H1197.5V836.6H1183.7ZM1143.8 836.6H1157.5V841.0H1143.8ZM1179.3 836.6H1193.0V841.0H1179.3ZM1139.4 841.0H1153.1V845.5H1139.4ZM1174.8 841.0H1188.6V845.5H1174.8ZM1210.3 841.0H1213.5V845.5H1210.3ZM1137.0 845.5H1148.7V849.9H1137.0ZM1170.4 845.5H1184.2V849.9H1170.4ZM1205.9 845.5H1213.5V849.9H1205.9ZM1137.0 849.9H1144.2V854.3H1137.0ZM1166.0 849.9H1179.7V854.3H1166.0ZM1201.5 849.9H1213.5V854.3H1201.5ZM1137.0 854.3H1139.8V858.7H1137.0ZM1161.5 854.3H1175.3V858.7H1161.5ZM1197.0 854.3H1210.8V858.7H1197.0ZM1157.1 858.7H1170.8V863.2H1157.1ZM1192.6 858.7H1206.3V863.2H1192.6ZM1152.7 863.2H1166.4V867.6H1152.7ZM1188.1 863.2H1201.9V867.6H1188.1ZM1148.2 867.6H1162.0V872.0H1148.2ZM1183.7 867.6H1197.5V872.0H1183.7ZM1143.8 872.0H1157.5V876.4H1143.8ZM1179.3 872.0H1193.0V876.4H1179.3ZM1139.4 876.4H1153.1V880.9H1139.4ZM1174.8 876.4H1188.6V880.9H1174.8ZM1210.3 876.4H1213.5V880.9H1210.3ZM1137.0 880.9H1148.7V885.3H1137.0ZM1170.4 880.9H1184.2V885.3H1170.4ZM1205.9 880.9H1213.5V885.3H1205.9ZM1137.0 885.3H1144.2V889.7H1137.0ZM1166.0 885.3H1179.7V889.7H1166.0ZM1201.5 885.3H1213.5V889.7H1201.5ZM1137.0 889.7H1139.8V894.2H1137.0ZM1161.5 889.7H1175.3V894.2H1161.5ZM1197.0 889.7H1210.8V894.2H1197.0ZM1157.1 894.2H1170.8V898.6H1157.1ZM1192.6 894.2H1206.3V898.6H1192.6ZM1152.7 898.6H1166.4V903.0H1152.7ZM1188.1 898.6H1201.9V903.0H1188.1ZM1148.2 903.0H1162.0V906.0H1148.2ZM1183.7 903.0H1197.5V906.0H1183.7Z"/>
<rect x="1137.00" y="822.90" width="76.55" height="83.10" fill="none" stroke="#000" stroke-width="4.8"/>
<rect x="1060.70" y="592.40" width="76.55" height="313.60" fill="#ff8fc3" stroke="#000" stroke-width="7" stroke-linejoin="round"/></g>
<g fill="none" stroke="#000" stroke-width="4.4"><path d="M322.0 161.7H342.0M322.0 342.0H342.0M332.0 161.7V342.0"/>
<path d="M398.8 620.5H418.8M398.8 638.0H418.8M408.8 620.5V638.0"/>
<path d="M475.6 774.2H495.6M475.6 805.6H495.6M485.6 774.2V805.6"/>
<path d="M667.0 345.8H687.0M667.0 528.2H687.0M677.0 345.8V528.2"/>
<path d="M743.8 529.5H763.8M743.8 547.6H763.8M753.8 529.5V547.6"/>
<path d="M820.2 751.0H840.2M820.2 784.5H840.2M830.2 751.0V784.5"/>
<path d="M1011.6 816.2H1031.6M1011.6 851.5H1031.6M1021.6 816.2V851.5"/>
<path d="M1088.8 576.9H1108.8M1088.8 608.1H1108.8M1098.8 576.9V608.1"/>
<path d="M1164.7 819.0H1184.7M1164.7 825.5H1184.7M1174.7 819.0V825.5"/></g>
<path d="M221 27.0H1271.0V922" fill="none" stroke="#000" stroke-width="10" stroke-linejoin="round"/>
<path d="M236.0 22.0V922" fill="none" stroke="#000" stroke-width="10.4"/>
<path d="M221 906.0H1276.0" fill="none" stroke="#000" stroke-width="10.2"/>
<path d="M221 173.50H236.0" fill="none" stroke="#000" stroke-width="9"/>
<path d="M221 320.00H236.0" fill="none" stroke="#000" stroke-width="9"/>
<path d="M221 466.50H236.0" fill="none" stroke="#000" stroke-width="9"/>
<path d="M221 613.00H236.0" fill="none" stroke="#000" stroke-width="9"/>
<path d="M221 759.50H236.0" fill="none" stroke="#000" stroke-width="9"/>
<path d="M581.0 906.0V922" fill="none" stroke="#000" stroke-width="9.6"/>
<path d="M926.0 906.0V922" fill="none" stroke="#000" stroke-width="9.6"/>
<g font-family="'Liberation Sans', Arial, sans-serif" font-size="48.7" fill="#000"><text transform="translate(194.6 42.2) scale(1 1.045)" text-anchor="end">12000</text>
<text transform="translate(194.6 188.7) scale(1 1.045)" text-anchor="end">10000</text>
<text transform="translate(194.6 335.2) scale(1 1.045)" text-anchor="end">8000</text>
<text transform="translate(194.6 481.7) scale(1 1.045)" text-anchor="end">6000</text>
<text transform="translate(194.6 628.2) scale(1 1.045)" text-anchor="end">4000</text>
<text transform="translate(194.6 776.0) scale(1 1.045)" text-anchor="end">2000</text>
<text transform="translate(194.6 922.5) scale(1 1.045)" text-anchor="end">0</text></g>
<text transform="translate(45.5 488.1) rotate(-90)" text-anchor="middle" font-family="'Liberation Sans', Arial, sans-serif" font-weight="bold" font-size="53" fill="#000">Ce concentration (ppm)</text>
<g font-family="'Liberation Sans', Arial, sans-serif" font-weight="bold" font-size="52.75" fill="#000" text-anchor="middle"><text transform="translate(419 969.5) scale(1 1.03)">BOL</text><text x="418.8" y="1030">Bonded</text>
<text transform="translate(751.5 969) scale(1 1.03)">BOL</text><text x="750" y="1030">Conditioned</text>
<text x="1100.6" y="967.5">Extracted</text><text x="1100" y="1028">at 1368 h</text></g>
<path fill="#4f6228" d="M676.6 67.7H681.1V69.3H676.6ZM703.2 67.7H703.6V69.3H703.2ZM676.6 69.3H685.5V73.7H676.6ZM676.6 73.7H689.9V78.2H676.6ZM681.1 78.2H694.4V82.6H681.1ZM685.5 82.6H698.8V87.0H685.5ZM689.9 87.0H703.2V91.5H689.9ZM694.4 91.5H703.6V94.6H694.4Z"/>
<rect x="676.6" y="67.7" width="27.0" height="26.9" fill="none" stroke="#000" stroke-width="4.6"/>
<rect x="676.8" y="132.4" width="26.4" height="25.6" fill="#ff8fc3" stroke="#000" stroke-width="6.8" stroke-linejoin="round"/>
<path fill="#1f497d" d="M694.4 195.2H703.6V197.7H694.4ZM689.9 197.7H703.2V202.1H689.9ZM685.5 202.1H698.8V206.5H685.5ZM681.1 206.5H694.4V211.0H681.1ZM676.6 211.0H689.9V215.4H676.6ZM676.6 215.4H685.5V219.8H676.6ZM676.6 219.8H681.1V222.3H676.6ZM703.2 219.8H703.6V222.3H703.2Z"/>
<rect x="676.6" y="195.2" width="27.0" height="27.1" fill="none" stroke="#000" stroke-width="4.6"/>
<g font-family="'Liberation Sans', Arial, sans-serif" font-size="52.75" fill="#000"><text x="742.5" y="102.4">Ce in anode</text><text x="742.5" y="163.8">Ce in membrane</text><text x="742.5" y="224.7">Ce in cathode</text></g>
</g>
</svg>
</body></html>
